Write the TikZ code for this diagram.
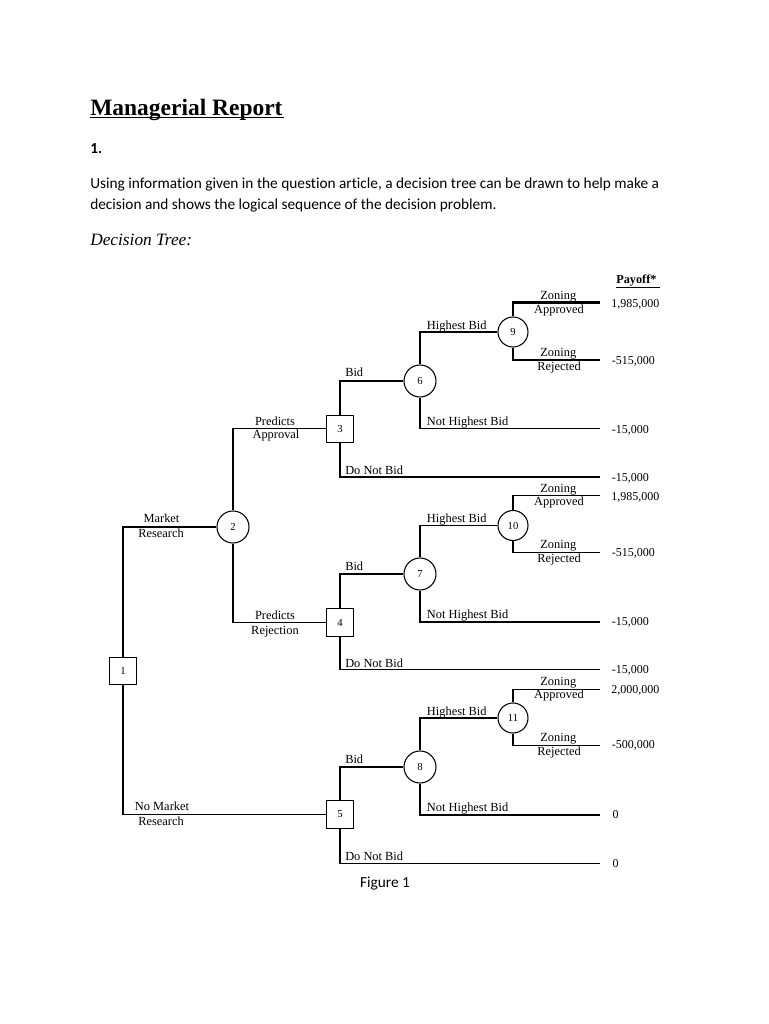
\documentclass[tikz,border=0pt]{standalone}
\usepackage{fontspec}
\newfontfamily\calib[Ligatures=NoCommon]{Carlito}
\newfontfamily\tms{Liberation Serif}
\begin{document}
\begin{tikzpicture}[x=0.75pt,y=-0.75pt,
  dbox/.style={draw, rectangle, minimum size=20.5pt, inner sep=0pt, line width=0.8pt, font=\tms\fontsize{8}{9}\selectfont},
  bigchance/.style={draw, circle, minimum size=24pt, inner sep=0pt, line width=0.8pt, font=\tms\fontsize{8}{9}\selectfont},
  chance/.style={draw, circle, minimum size=22.5pt, inner sep=0pt, line width=0.8pt, font=\tms\fontsize{8}{9}\selectfont},
  lbl/.style={inner sep=0pt, font=\tms\fontsize{9.3}{10}\selectfont},
  pay/.style={inner sep=0pt, anchor=base west, font=\tms\fontsize{9}{10}\selectfont},
  body/.style={inner sep=0pt, anchor=base west, font=\calib\fontsize{11.5}{13}\selectfont},
  edge/.style={line width=0.8pt},
  thickedge/.style={line width=2pt},
  midedge/.style={line width=1.1pt}]
\useasboundingbox[fill=white] (0,0) rectangle (768,1024);

% header
\node[inner sep=0pt, anchor=base west, font=\tms\bfseries\fontsize{17.6}{20}\selectfont] (title) at (90,115) {Managerial Report};
\draw[line width=0.9pt] (title.base west) ++(0,2.8) -- ++(194,0);
\node[body, font=\calib\bfseries\fontsize{11.5}{13}\selectfont] (one) at (90,153) {1.};
\node[body] (p1) at (90,188.5) {Using information given in the question article, a decision tree can be drawn to help make a};
\node[body] (p2) at (90,209.5) {decision and shows the logical sequence of the decision problem.};
\node[inner sep=0pt, anchor=base west, font=\tms\itshape\fontsize{13}{15}\selectfont] (dt) at (90,245) {Decision Tree:};

% nodes
\node[dbox] (n1) at (123,671) {1};
\node[bigchance] (n2) at (233,527) {2};
\node[dbox] (n3) at (340,428.7) {3};
\node[dbox] (n4) at (340,622.5) {4};
\node[dbox] (n5) at (340,814.5) {5};
\node[bigchance] (n6) at (420,381) {6};
\node[bigchance] (n7) at (420,574) {7};
\node[bigchance] (n8) at (420,767) {8};
\node[chance] (n9) at (513,332) {9};
\node[chance] (n10) at (513,525.5) {10};
\node[chance] (n11) at (513,718) {11};

% end points
\coordinate (e3) at (600,477);
\coordinate (e4) at (600,669.5);
\coordinate (e5) at (600,863.5);
\coordinate (e6) at (600,428.7);
\coordinate (e7) at (600,622);
\coordinate (e8) at (600,815);
\coordinate (e9a) at (600,302.7);
\coordinate (e9b) at (600,360);
\coordinate (e10a) at (600,495.7);
\coordinate (e10b) at (600,552.3);
\coordinate (e11a) at (600,689.3);
\coordinate (e11b) at (600,745.3);

% connectors
\draw[edge] (n1.north) |- (n2.west);
\draw[edge] (n1.south) |- (n5.west);
\draw[edge] (n2.north) |- (n3.west);
\draw[midedge] (n2.south) |- (n4.west);
\draw[edge] (n3.north) |- (n6.west);
\draw[edge] (n3.south) |- (e3);
\draw[midedge] (n4.north) |- (n7.west);
\draw[midedge] (n4.south) |- (e4);
\draw[edge] (n5.north) |- (n8.west);
\draw[edge] (n5.south) |- (e5);
\draw[edge] (n6.north) |- (n9.west);
\draw[edge] (n6.south) |- (e6);
\draw[edge] (n7.north) |- (n10.west);
\draw[edge] (n7.south) |- (e7);
\draw[edge] (n8.north) |- (n11.west);
\draw[thickedge] (n8.south) |- (e8);
\draw[thickedge] (n9.north) |- (e9a);
\draw[edge] (n9.south) |- (e9b);
\draw[edge] (n10.north) |- (e10a);
\draw[edge] (n10.south) |- (e10b);
\draw[edge] (n11.north) |- (e11a);
\draw[edge] (n11.south) |- (e11b);

% branch labels
\node[lbl, anchor=base] (l1a) at (161.5,522) {Market};
\node[lbl, anchor=base] (l1b) at (161,537) {Research};
\node[lbl, anchor=base] (l1c) at (162,810) {No Market};
\node[lbl, anchor=base] (l1d) at (161,825) {Research};
\node[lbl, anchor=base] (l2a) at (275,425.5) {Predicts};
\node[lbl, anchor=base] (l2b) at (276,438.5) {Approval};
\node[lbl, anchor=base] (l2c) at (275,619.3) {Predicts};
\node[lbl, anchor=base] (l2d) at (275,634) {Rejection};

\node[lbl, anchor=base west] (b3) at (345,376.7) {Bid};
\node[lbl, anchor=base west] (d3) at (345,474) {Do Not Bid};
\node[lbl, anchor=base west] (b4) at (345,570) {Bid};
\node[lbl, anchor=base west] (d4) at (345,667) {Do Not Bid};
\node[lbl, anchor=base west] (b5) at (345,763.3) {Bid};
\node[lbl, anchor=base west] (d5) at (345,860.5) {Do Not Bid};

\node[lbl, anchor=base west] (h6) at (426.7,329.3) {Highest Bid};
\node[lbl, anchor=base west] (nh6) at (426.7,425.5) {Not Highest Bid};
\node[lbl, anchor=base west] (h7) at (426.7,522.3) {Highest Bid};
\node[lbl, anchor=base west] (nh7) at (426.7,618.7) {Not Highest Bid};
\node[lbl, anchor=base west] (h8) at (426.7,715) {Highest Bid};
\node[lbl, anchor=base west] (nh8) at (426.7,811.7) {Not Highest Bid};

\node[lbl, anchor=base] (z9a) at (558.3,299.3) {Zoning};
\node[lbl, anchor=base] (z9b) at (559,313.5) {Approved};
\node[lbl, anchor=base] (z9c) at (558.3,356.7) {Zoning};
\node[lbl, anchor=base] (z9d) at (559,370.5) {Rejected};
\node[lbl, anchor=base] (z10a) at (558.3,492) {Zoning};
\node[lbl, anchor=base] (z10b) at (559,505.5) {Approved};
\node[lbl, anchor=base] (z10c) at (558.3,548.7) {Zoning};
\node[lbl, anchor=base] (z10d) at (559,562.7) {Rejected};
\node[lbl, anchor=base] (z11a) at (558.3,685.5) {Zoning};
\node[lbl, anchor=base] (z11b) at (559,698.7) {Approved};
\node[lbl, anchor=base] (z11c) at (558.3,741.5) {Zoning};
\node[lbl, anchor=base] (z11d) at (559,755.7) {Rejected};

% payoffs
\node[inner sep=0pt, anchor=base west, font=\tms\bfseries\fontsize{9.2}{10}\selectfont] (ph) at (616,283) {Payoff*};
\draw[line width=0.8pt] (ph.base west) ++(0,4.3) -- ++(44,0);
\node[pay] (v1) at (611,307) {1,985,000};
\node[pay] (v2) at (611.5,364.3) {-515,000};
\node[pay] (v3) at (611.5,433) {-15,000};
\node[pay] (v4) at (611.5,481) {-15,000};
\node[pay] (v5) at (611,500) {1,985,000};
\node[pay] (v6) at (611.5,556.3) {-515,000};
\node[pay] (v7) at (611.5,625.5) {-15,000};
\node[pay] (v8) at (611.5,673.5) {-15,000};
\node[pay] (v9) at (611,693.5) {2,000,000};
\node[pay] (v10) at (611.5,748.5) {-500,000};
\node[pay] (v11) at (612.3,818.5) {0};
\node[pay] (v12) at (612.3,867) {0};

\node[inner sep=0pt, anchor=base, font=\calib\fontsize{11.5}{13}\selectfont] (fig) at (385,887) {Figure 1};
\end{tikzpicture}
\end{document}
